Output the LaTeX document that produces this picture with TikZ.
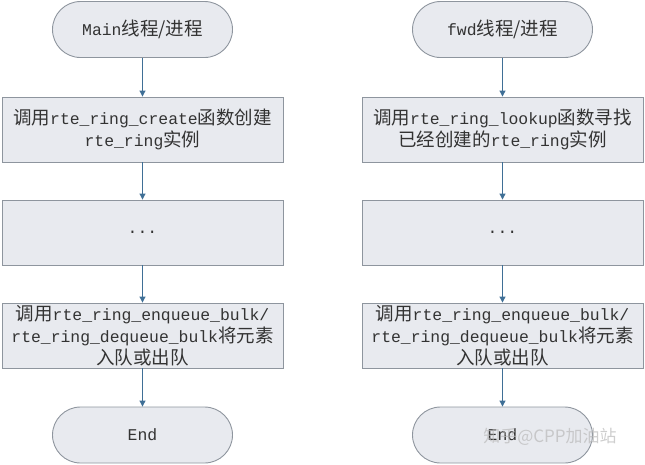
\documentclass[tikz,border=0pt]{standalone}
\usepackage{fontspec}
\setmonofont{Liberation Mono}
\newfontfamily\cjk{Noto Sans CJK SC}
\newcommand\zh[1]{{\cjk\fontsize{18.5}{21.7}\selectfont #1}}
\usetikzlibrary{arrows.meta}
\definecolor{boxfill}{HTML}{E8EAEF}
\definecolor{boxdraw}{HTML}{8E959E}
\definecolor{arrowc}{HTML}{3F6F96}
\definecolor{txt}{HTML}{333333}
\tikzset{
  base/.style={draw=boxdraw, fill=boxfill, line width=0.9pt, text=txt,
    font=\ttfamily\fontsize{16.4}{21.7}\selectfont, align=center, inner sep=0pt},
  term/.style={base, rounded corners=28pt, minimum width=180pt, minimum height=56pt},
  procbox/.style={base, minimum width=281pt, minimum height=65pt},
  conn/.style={draw=arrowc, line width=1pt, -{Triangle[length=6pt,width=6pt]}}
}
\begin{document}
\begin{tikzpicture}[x=1pt,y=-1pt]
\useasboundingbox (0,0) rectangle (645,464);
% left column
\node[term] (ls) at (142.5,29.5) {Main\zh{线程/进程}};
\node[procbox] (l1) at (142.5,129.5) {\zh{调用}rte\_ring\_create\zh{函数创建}\\rte\_ring\zh{实例}};
\node[procbox] (l2) at (142.5,232.5) {...};
\node[procbox] (l3) at (142.5,335.5) {\zh{调用}rte\_ring\_enqueue\_bulk/\\rte\_ring\_dequeue\_bulk\zh{将元素}\\\zh{入队或出队}};
\node[term] (le) at (142.5,435) {End};
% right column
\node[term] (rs) at (502.5,29.5) {fwd\zh{线程/进程}};
\node[procbox] (r1) at (502.5,129.5) {\zh{调用}rte\_ring\_lookup\zh{函数寻找}\\\zh{已经创建的}rte\_ring\zh{实例}};
\node[procbox] (r2) at (502.5,232.5) {...};
\node[procbox] (r3) at (502.5,335.5) {\zh{调用}rte\_ring\_enqueue\_bulk/\\rte\_ring\_dequeue\_bulk\zh{将元素}\\\zh{入队或出队}};
\node[term] (re) at (502.5,435) {End};
% connectors
\draw[conn] (ls) -- (l1);
\draw[conn] (l1) -- (l2);
\draw[conn] (l2) -- (l3);
\draw[conn] (l3) -- (le);
\draw[conn] (rs) -- (r1);
\draw[conn] (r1) -- (r2);
\draw[conn] (r2) -- (r3);
\draw[conn] (r3) -- (re);
% watermark
\node[text=gray!55, font=\cjk\fontsize{17}{20}\selectfont, opacity=0.7] (wm) at (550,437) {知乎@CPP加油站};
\end{tikzpicture}
\end{document}
